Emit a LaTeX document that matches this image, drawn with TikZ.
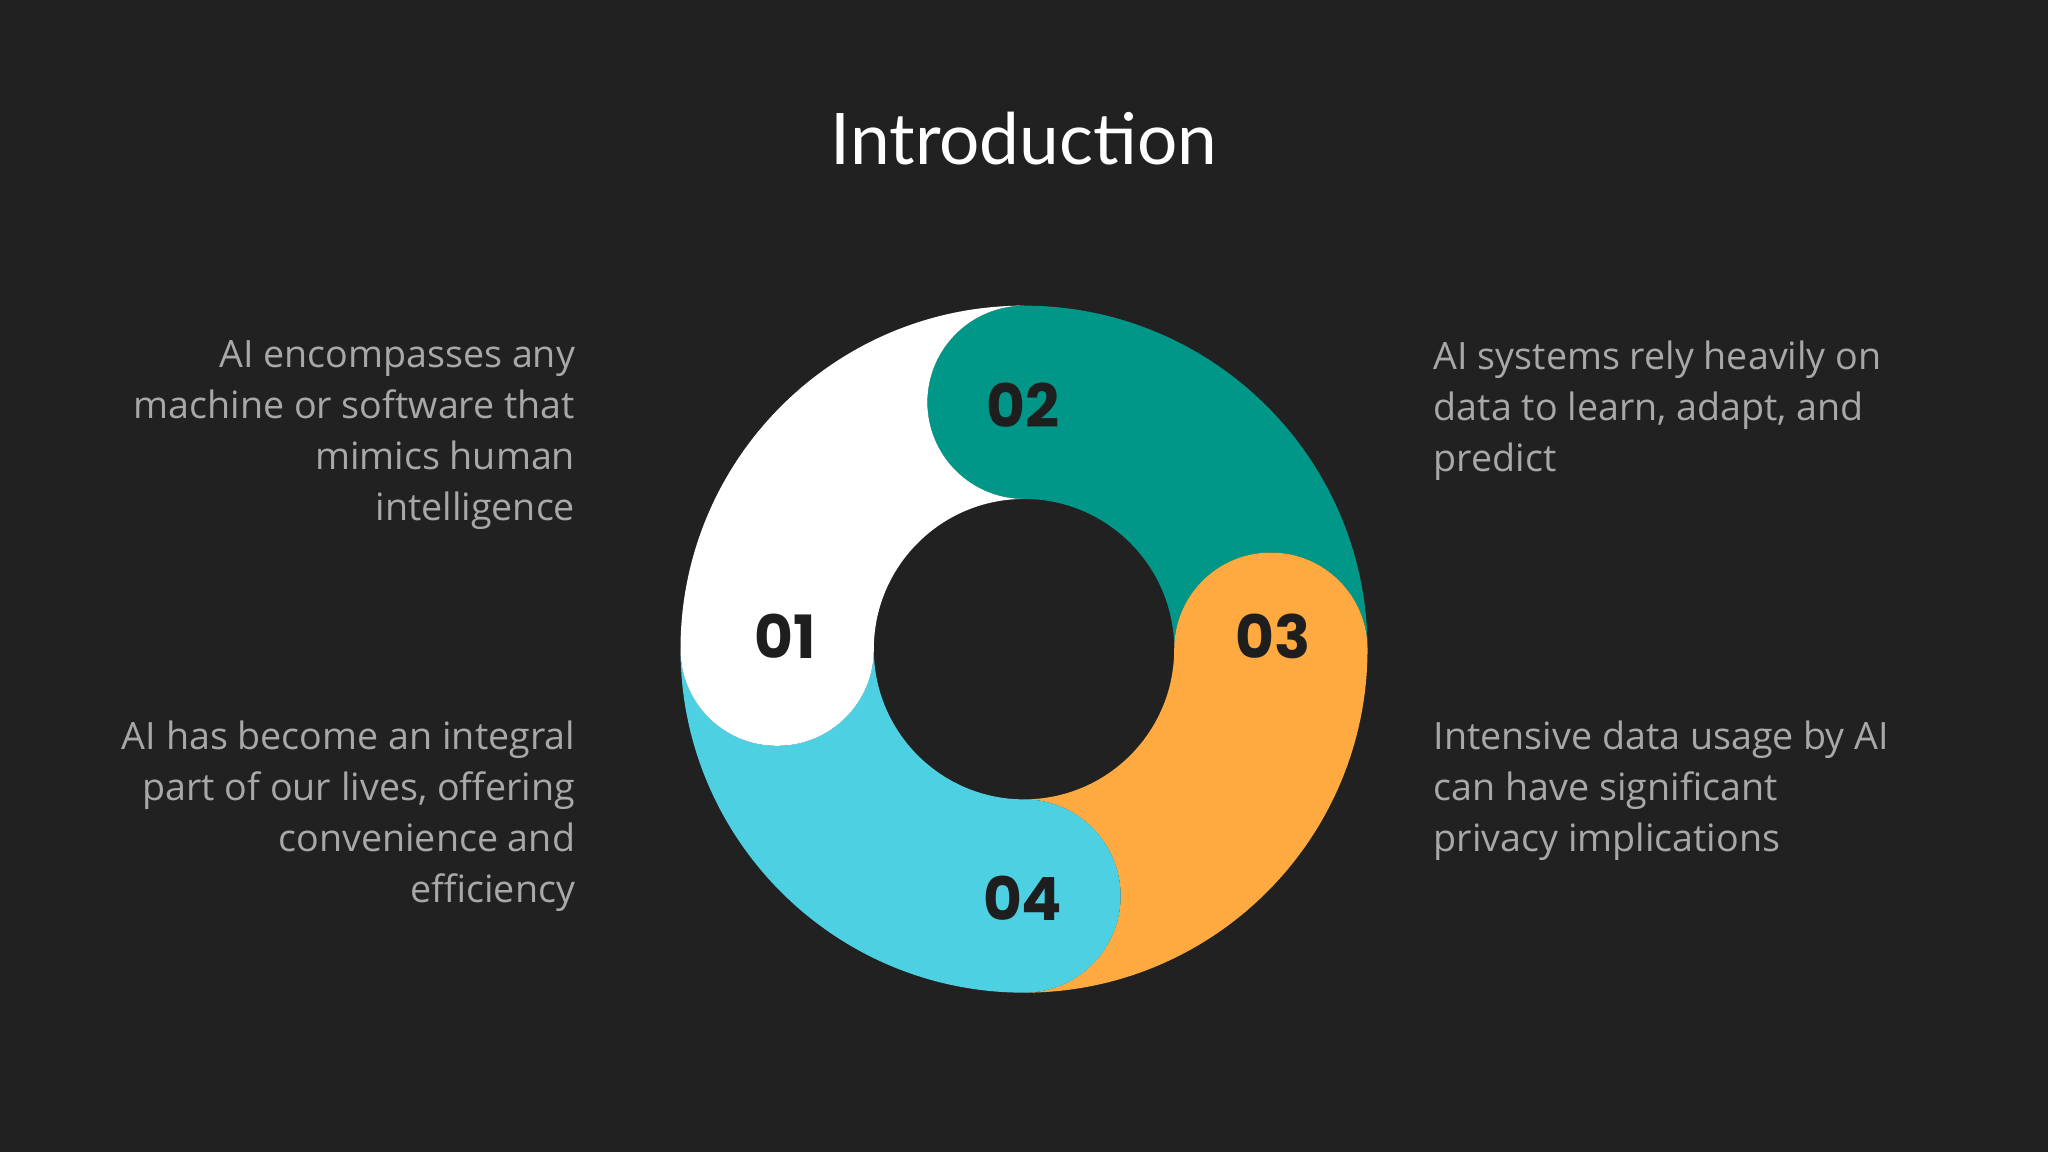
\documentclass[tikz,border=0pt]{standalone}
\usepackage{fontspec}
\setmainfont{Open Sans}
\newfontfamily\titlefont{Lato}
\newfontfamily\numfont{Poppins}
\definecolor{bg}{HTML}{212121}
\definecolor{tealc}{HTML}{009688}
\definecolor{orangec}{HTML}{FFAA40}
\definecolor{bluec}{HTML}{4DD0E1}
\definecolor{txt}{HTML}{A8A8A8}
\definecolor{numc}{HTML}{1E1E1E}
\tikzset{
  body/.style={text=txt,font=\fontsize{8.2}{11.1}\selectfont,inner sep=0pt},
  num/.style={text=numc,font=\numfont\bfseries\fontsize{13}{15}\selectfont,inner sep=0pt},
}
\newcommand{\segment}[2]{%
  \fill[#2] ([shift={(#1:2.63)}]c) arc[start angle=#1,end angle=#1-90,radius=2.63]
    arc[start angle=#1-90,end angle=#1+90,radius=0.74]
    arc[start angle=#1-90,end angle=#1,radius=1.15]
    arc[start angle=#1+180,end angle=#1,radius=0.74] -- cycle;}
\begin{document}
\begin{tikzpicture}
\fill[bg] (0,0) rectangle (15.68,8.82);
\useasboundingbox (0,0) rectangle (15.68,8.82);
\coordinate (c) at (7.84,3.85);
\segment{90}{tealc}
\segment{0}{orangec}
\segment{-90}{bluec}
\segment{-180}{white}
\node[text=white,font=\titlefont\fontsize{15.5}{18}\selectfont] (title) at (7.84,7.76) {Introduction};
\node[num] (n1) at (6.01,3.95) {01};
\node[num] (n2) at (7.83,5.72) {02};
\node[num] (n3) at (9.75,3.95) {03};
\node[num] (n4) at (7.83,1.94) {04};
\node[body,anchor=north east,align=right] (t1) at (4.41,6.22) {AI encompasses any\\machine or software that\\mimics human\\intelligence};
\node[body,anchor=north east,align=right] (t4) at (4.41,3.31) {AI has become an integral\\part of our lives, offering\\convenience and\\efficiency};
\node[body,anchor=north west,align=left] (t2) at (10.97,6.22) {AI systems rely heavily on\\data to learn, adapt, and\\predict};
\node[body,anchor=north west,align=left] (t3) at (10.97,3.31) {Intensive data usage by AI\\can have significant\\privacy implications};
\end{tikzpicture}
\end{document}
